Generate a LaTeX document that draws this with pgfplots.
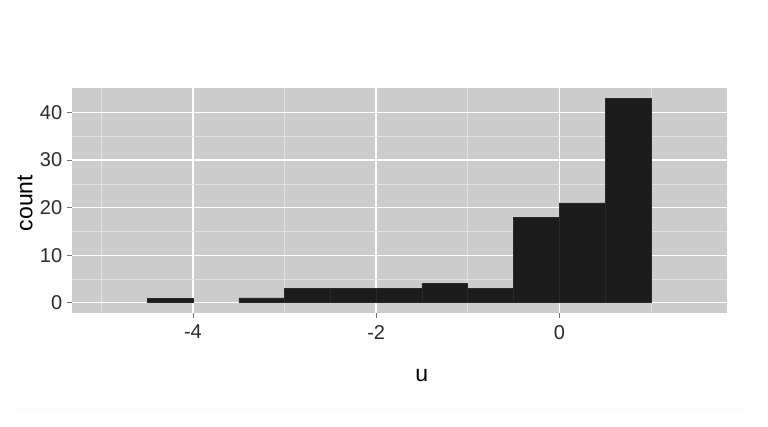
\documentclass[border=0pt]{standalone}
\usepackage{pgfplots}
\pgfplotsset{compat=1.18}
\usepackage{fontspec}
\setmainfont{Liberation Sans}
\definecolor{panel}{HTML}{CCCCCC}
\definecolor{minorg}{HTML}{E2E2E2}
\definecolor{barfill}{HTML}{1B1B1B}
\definecolor{barline}{HTML}{2A2A2A}
\definecolor{ticktext}{HTML}{2B2B2B}
\definecolor{faint}{HTML}{FDFDFD}
\begin{document}
\begin{tikzpicture}
\useasboundingbox (-71.7bp,-114.3bp) rectangle (696.3bp,312.7bp);
\fill[faint] (-55.7bp,-100.3bp) rectangle (673.3bp,234.7bp);
\begin{axis}[
  at={(0,0)}, anchor=south west,
  scale only axis, width=655.6bp, height=224.4bp,
  xmin=-5.324, xmax=1.834, ymin=-2.1, ymax=45.1,
  axis background/.style={fill=panel},
  axis line style={draw=none},
  tick pos=left, tick align=outside,
  major tick length=5bp, minor tick length=0pt,
  tick style={color=black!55, line width=0.8bp},
  xtick={-4,-2,0}, ytick={0,10,20,30,40},
  minor xtick={-5,-3,-1,1}, minor ytick={5,15,25,35},
  grid=both,
  major grid style={white, line width=1.3bp},
  minor grid style={minorg, line width=0.6bp},
  /pgf/number format/assume math mode=true,
  ticklabel style={font=\fontsize{20bp}{22bp}\selectfont, text=ticktext},
  xticklabel style={yshift=-4bp},
  yticklabel style={xshift=-1bp},
  label style={font=\fontsize{23bp}{26bp}\selectfont},
  xlabel={u},
  xlabel style={at={(axis description cs:0.534,0)}, anchor=center, yshift=-62.5bp},
  ylabel={count},
  ylabel style={at={(axis description cs:0,0.5)}, anchor=center, yshift=46.7bp, xshift=-2.5bp},
]
\addplot[ybar interval, fill=barfill, draw=barline, line width=0.5bp]
  coordinates {(-4.5,1) (-4.0,1)};
\addplot[ybar interval, fill=barfill, draw=barline, line width=0.5bp]
  coordinates {(-3.5,1) (-3.0,3) (-2.5,3) (-2.0,3) (-1.5,4) (-1.0,3) (-0.5,18) (0.0,21) (0.5,43) (1.0,43)};
\end{axis}
\end{tikzpicture}
\end{document}
